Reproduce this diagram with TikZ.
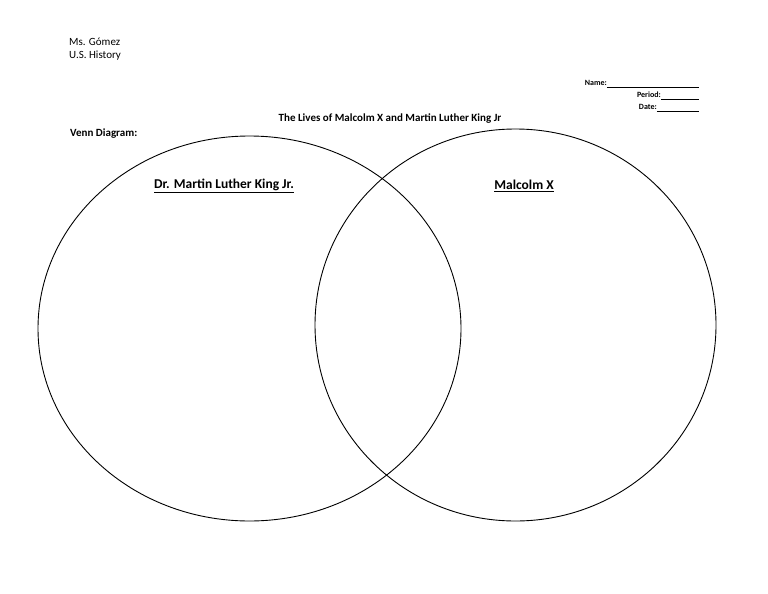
\documentclass[tikz,border=0pt]{standalone}
\usepackage{fontspec}
\setmainfont{Carlito}
\begin{document}
\begin{tikzpicture}[x=1pt,y=-1pt,
  hdr/.style={font=\fontsize{13.5}{15}\selectfont\bfseries},
  small/.style={font=\fontsize{8}{9}\selectfont\bfseries,anchor=east,inner sep=0pt},
  plain/.style={font=\fontsize{11}{13}\selectfont,anchor=west,inner sep=0pt}]
\useasboundingbox[fill=white] (0,0) rectangle (768,594);
\draw[line width=0.9pt] (249.5,328.5) ellipse [x radius=211.5pt, y radius=192.5pt];
\draw[line width=0.9pt] (515.5,325) ellipse [x radius=200.5pt, y radius=196pt];
\node[plain] (t1) at (69,42) {Ms. Gómez};
\node[plain] (t2) at (69,56) {U.S. History};
\node[small] (n1) at (699,84) {Name:\underline{\hspace{92pt}}};
\node[small] (n2) at (699,96) {Period:\underline{\hspace{38pt}}};
\node[small] (n3) at (699,108) {Date:\underline{\hspace{42pt}}};
\node[font=\fontsize{11}{13}\selectfont\bfseries] (ti) at (390,119) {The Lives of Malcolm X and Martin Luther King Jr};
\node[font=\fontsize{11}{13}\selectfont\bfseries,anchor=west,inner sep=0pt] (vd) at (70,134) {Venn Diagram:};
\node[hdr] (l) at (224,186) {\underline{Dr. Martin Luther King Jr.}};
\node[hdr] (r) at (524,186) {\underline{Malcolm X}};
\end{tikzpicture}
\end{document}
